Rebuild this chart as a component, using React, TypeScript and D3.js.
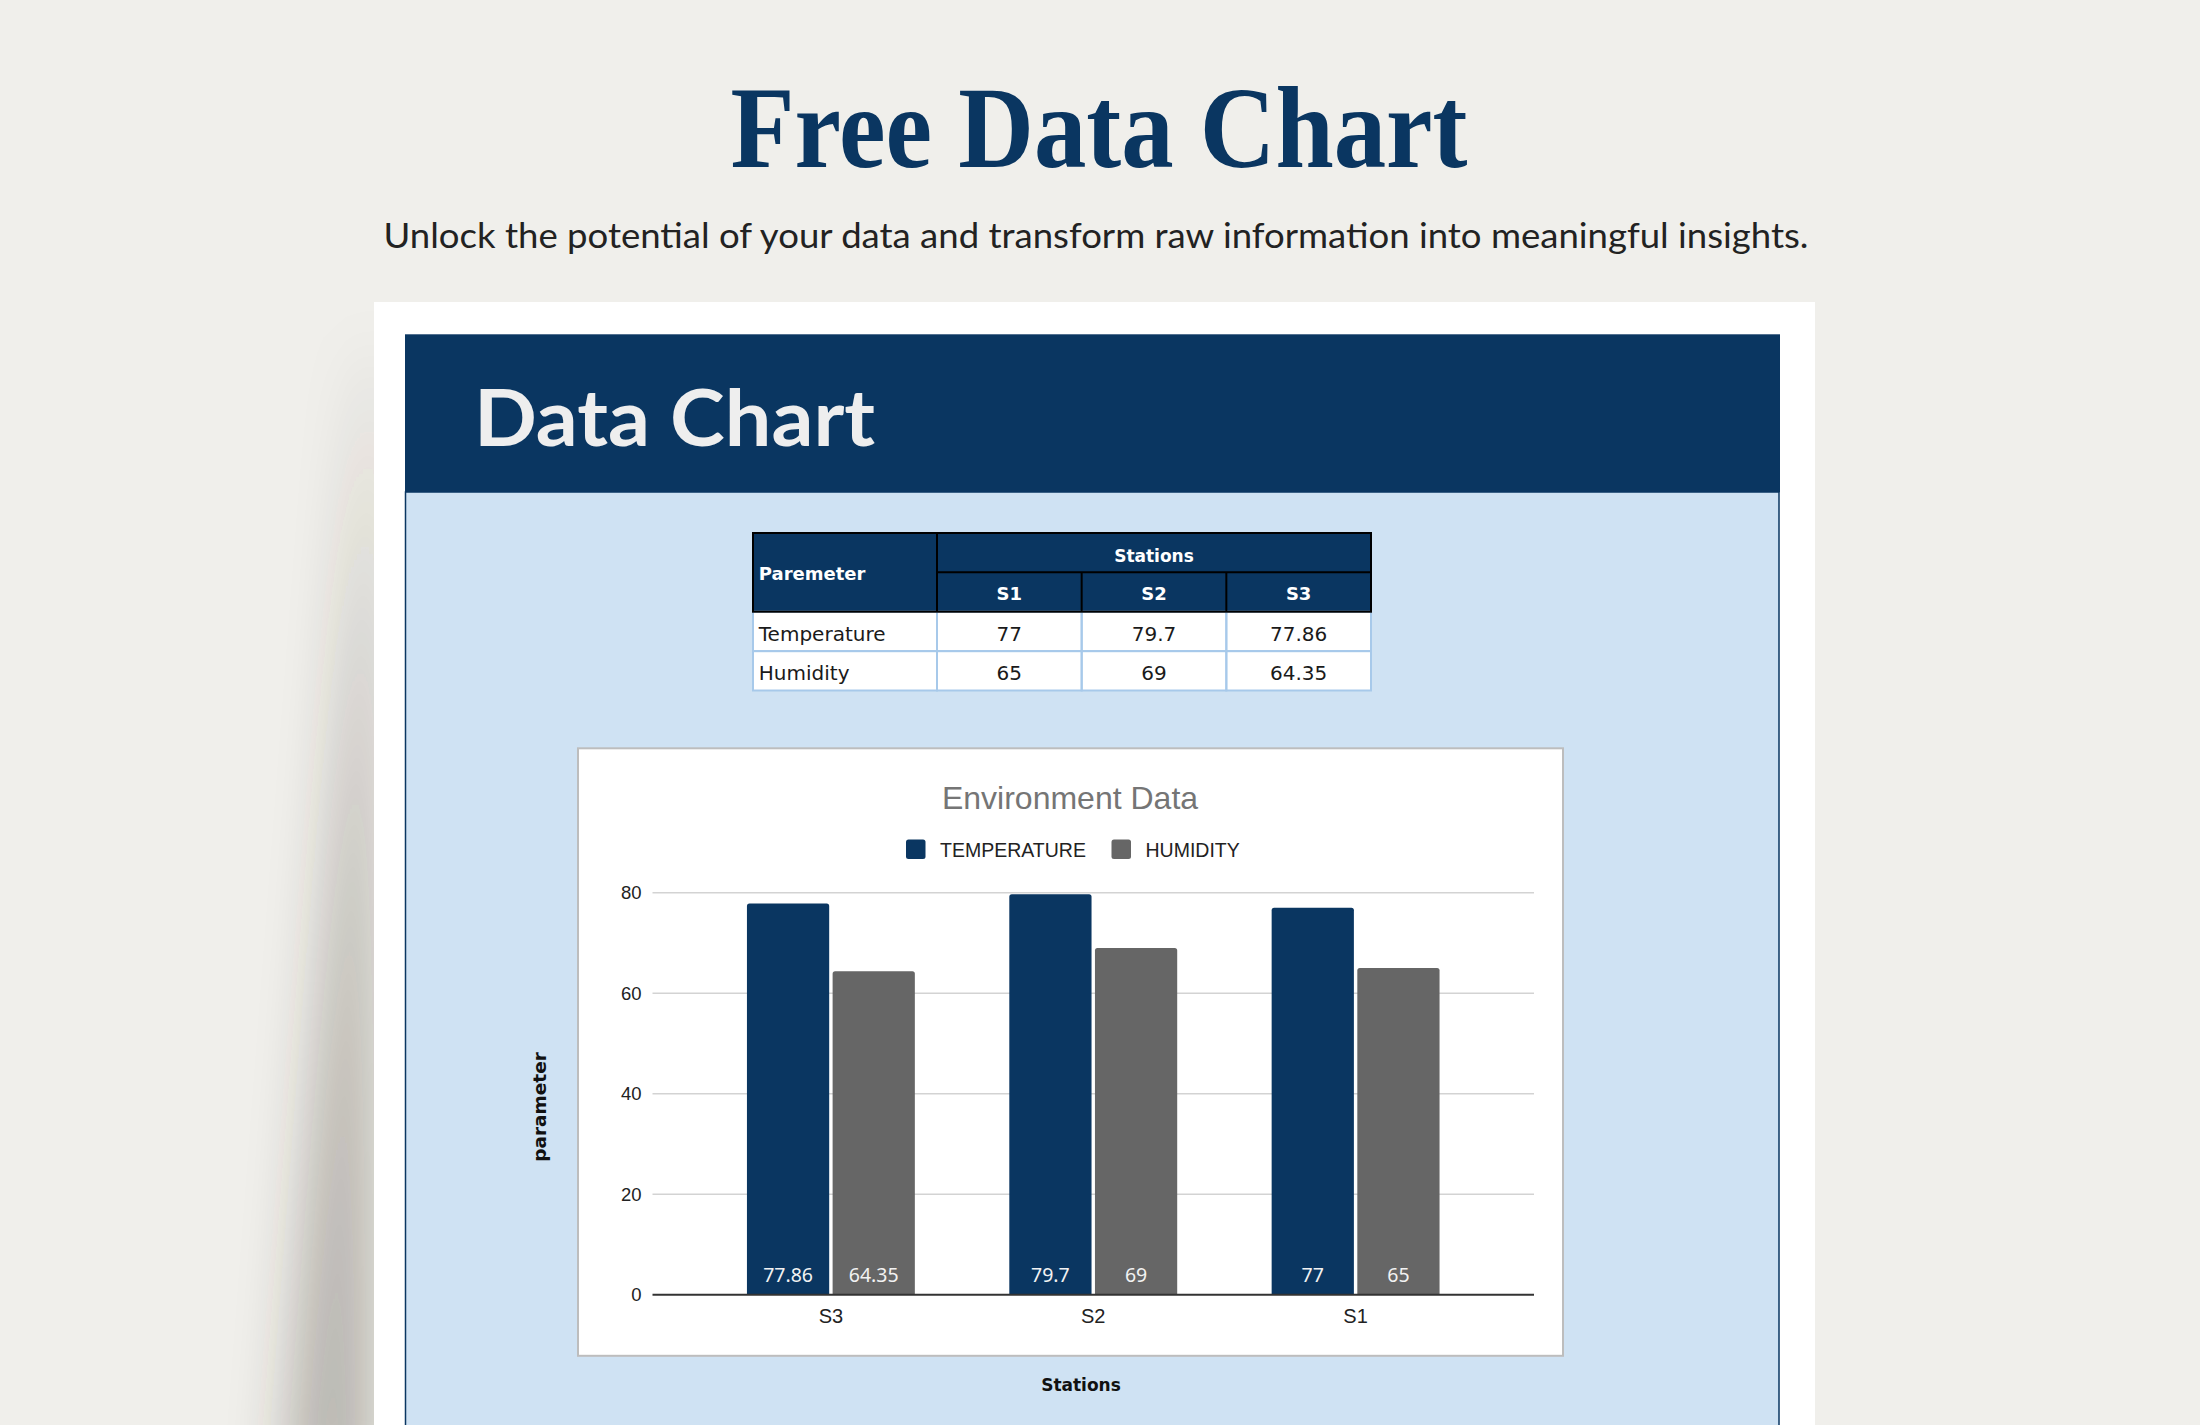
import React from "react";
import * as d3 from "d3";

// ---- data ----
const stationKeys = ["S1", "S2", "S3"];
const temperature = [77, 79.7, 77.86];
const humidity = [65, 69, 64.35];
const chartOrder = ["S3", "S2", "S1"];
const seriesNames = ["TEMPERATURE", "HUMIDITY"];
const rowLabels = ["Temperature", "Humidity"];
const yTicks = [0, 20, 40, 60, 80];

const NAVY = "#0a3661";
const GREY = "#666666";
const PANEL = "#cfe2f3";
const BG = "#f0efeb";
const SANS = "'Liberation Sans', Arial, sans-serif";
const GEO = "'DejaVu Sans', sans-serif";

function topRounded(x: number, y: number, w: number, h: number, r: number) {
  return `M${x},${y + h}V${y + r}Q${x},${y} ${x + r},${y}H${x + w - r}Q${x + w},${y} ${x + w},${y + r}V${y + h}Z`;
}

export default function App() {
  const W = 2200;
  const H = 1425;

  // chart scales
  const x0 = d3.scaleBand<string>().domain(chartOrder).range([652.5, 1534]).paddingInner(0.36).paddingOuter(0.36);
  const x1 = d3.scaleBand<string>().domain(seriesNames).range([0, x0.bandwidth()]).paddingInner(0.04);
  const y = d3.scaleLinear().domain([0, 80]).range([1294.7, 892.7]);
  const colors = d3.scaleOrdinal<string, string>().domain(seriesNames).range([NAVY, GREY]);
  const valueOf = (st: string, s: string) => {
    const i = stationKeys.indexOf(st);
    return s === seriesNames[0] ? temperature[i] : humidity[i];
  };

  // table scales
  const tLeft = 753;
  const tRight = 1371;
  const colX = d3.scaleBand<string>().domain(stationKeys).range([937, tRight]);
  const rowY = d3.scaleBand<string>().domain(rowLabels).range([611.7, 690.5]);
  const hTop = 533;
  const hMid = 572.3;
  const hBot = 611.7;

  return (
    <svg
      width={W}
      height={H}
      viewBox={`0 0 ${W} ${H}`}
      style={{ position: "absolute", left: 0, top: 0, display: "block" }}
    >
      <defs>
        <filter id="sh" x="-100%" y="-10%" width="300%" height="120%">
          <feGaussianBlur stdDeviation="28" />
        </filter>
      </defs>
      <rect x={0} y={0} width={W} height={H} fill={BG} />

      {/* page titles */}
      <text
        x={1099}
        y={166.7}
        textAnchor="middle"
        fontFamily="'Liberation Serif', 'DejaVu Serif', serif"
        fontWeight="bold"
        fontSize={117}
        fill={NAVY}
        textLength={737}
        lengthAdjust="spacingAndGlyphs"
      >
        Free Data Chart
      </text>
      <text
        x={1096}
        y={248}
        textAnchor="middle"
        fontFamily="Lato, 'Open Sans', sans-serif"
        fontSize={35}
        fill="#222222"
        textLength={1425}
        lengthAdjust="spacingAndGlyphs"
      >
        Unlock the potential of your data and transform raw information into meaningful insights.
      </text>

      {/* paper with shadow */}
      <polygon points="374,340 372,340 285,1480 374,1480" fill="rgba(60,55,45,0.32)" filter="url(#sh)" />
      <rect x={374} y={302} width={1441} height={H - 302} fill="#ffffff" />

      {/* navy header */}
      <rect x={405} y={334.3} width={1375} height={158} fill={NAVY} />
      <text
        x={474}
        y={446}
        fontFamily="Lato, sans-serif"
        fontWeight="bold"
        fontSize={78}
        fill="#eeeeee"
        textLength={401}
        lengthAdjust="spacingAndGlyphs"
      >
        Data Chart
      </text>

      {/* light blue panel */}
      <rect x={405.5} y={492} width={1373.5} height={H - 492 + 10} fill={PANEL} stroke={NAVY} strokeWidth={1.5} />

      {/* table */}
      <g>
        <rect x={tLeft} y={hTop} width={tRight - tLeft} height={hBot - hTop} fill={NAVY} />
        {rowLabels.map((r) => (
          <rect key={r} x={tLeft} y={rowY(r)!} width={tRight - tLeft} height={rowY.bandwidth()} fill="#ffffff" />
        ))}
        {rowLabels.map((r) => (
          <rect
            key={"b" + r}
            x={tLeft}
            y={rowY(r)!}
            width={colX.range()[0] - tLeft}
            height={rowY.bandwidth()}
            fill="none"
            stroke="#a7c9ea"
            strokeWidth={2}
          />
        ))}
        {rowLabels.map((r) =>
          stationKeys.map((s) => (
            <rect
              key={"c" + r + s}
              x={colX(s)!}
              y={rowY(r)!}
              width={colX.bandwidth()}
              height={rowY.bandwidth()}
              fill="none"
              stroke="#a7c9ea"
              strokeWidth={2}
            />
          ))
        )}
        <rect x={tLeft} y={hTop} width={tRight - tLeft} height={hBot - hTop} fill="none" stroke="#000" strokeWidth={2} />
        <line x1={colX.range()[0]} x2={colX.range()[0]} y1={hTop} y2={hBot} stroke="#000" strokeWidth={2} />
        <line x1={colX.range()[0]} x2={tRight} y1={hMid} y2={hMid} stroke="#000" strokeWidth={2} />
        {stationKeys.slice(1).map((s) => (
          <line key={"v" + s} x1={colX(s)!} x2={colX(s)!} y1={hMid} y2={hBot} stroke="#000" strokeWidth={2} />
        ))}
        <text x={758.8} y={580} fontFamily={GEO} fontWeight="bold" fontSize={18} fill="#ffffff">
          Paremeter
        </text>
        <text
          x={(colX.range()[0] + tRight) / 2}
          y={561.7}
          textAnchor="middle"
          fontFamily={GEO}
          fontWeight="bold"
          fontSize={17}
          fill="#ffffff"
        >
          Stations
        </text>
        {stationKeys.map((s) => (
          <text
            key={"h" + s}
            x={colX(s)! + colX.bandwidth() / 2}
            y={600}
            textAnchor="middle"
            fontFamily={GEO}
            fontWeight="bold"
            fontSize={18}
            fill="#ffffff"
          >
            {s}
          </text>
        ))}
        {rowLabels.map((r, ri) => (
          <g key={"t" + r}>
            <text x={758.8} y={rowY(r)! + 29} fontFamily={GEO} fontSize={20} fill="#1a1a1a">
              {r}
            </text>
            {stationKeys.map((s, si) => (
              <text
                key={s}
                x={colX(s)! + colX.bandwidth() / 2}
                y={rowY(r)! + 29}
                textAnchor="middle"
                fontFamily={GEO}
                fontSize={20}
                fill="#1a1a1a"
              >
                {String(ri === 0 ? temperature[si] : humidity[si])}
              </text>
            ))}
          </g>
        ))}
      </g>

      {/* chart box */}
      <rect x={578} y={748.3} width={985} height={607.5} fill="#ffffff" stroke="#bdbdbd" strokeWidth={2} />
      <text x={1070} y={809.3} textAnchor="middle" fontFamily={SANS} fontSize={32} fill="#757575">
        Environment Data
      </text>

      {/* legend */}
      {seriesNames.map((s, i) => {
        const lx = i === 0 ? 906 : 1111.5;
        return (
          <g key={"lg" + s}>
            <rect x={lx} y={839.5} width={19.5} height={19.5} rx={2.5} fill={colors(s)} />
            <text x={lx + 34} y={856.7} fontFamily={SANS} fontSize={19.5} fill="#222222">
              {s}
            </text>
          </g>
        );
      })}

      {/* grid + y ticks */}
      {yTicks.map((t) => (
        <g key={"y" + t}>
          {t !== 0 && (
            <line x1={652.5} x2={1534} y1={y(t)} y2={y(t)} stroke="#d3d3d3" strokeWidth={1.6} />
          )}
          <text x={641.5} y={y(t) + 6.6} textAnchor="end" fontFamily={SANS} fontSize={18.5} fill="#222222">
            {t}
          </text>
        </g>
      ))}

      {/* bars */}
      {chartOrder.map((st) => (
        <g key={"g" + st} transform={`translate(${x0(st)},0)`}>
          {seriesNames.map((s) => {
            const v = valueOf(st, s);
            const bx = x1(s)!;
            const bw = x1.bandwidth();
            return (
              <g key={s}>
                <path d={topRounded(bx, y(v), bw, y(0) - y(v), 2.5)} fill={colors(s)} />
                <text
                  x={bx + bw / 2}
                  y={y(0) - 13}
                  textAnchor="middle"
                  fontFamily="'Noto Sans', 'DejaVu Sans', sans-serif"
                  fontSize={19.5}
                  fill="#f2f2f2"
                >
                  {String(v)}
                </text>
              </g>
            );
          })}
          <text
            x={x0.bandwidth() / 2}
            y={1322.7}
            textAnchor="middle"
            fontFamily={SANS}
            fontSize={20}
            fill="#222222"
          >
            {st}
          </text>
        </g>
      ))}
      <line x1={652.5} x2={1534} y1={y(0)} y2={y(0)} stroke="#333333" strokeWidth={2} />

      {/* axis titles */}
      <text
        transform={`translate(546,1107) rotate(-90)`}
        textAnchor="middle"
        fontFamily={GEO}
        fontWeight="bold"
        fontSize={18.5}
        fill="#111111"
      >
        parameter
      </text>
      <text x={1081} y={1390.7} textAnchor="middle" fontFamily={GEO} fontWeight="bold" fontSize={17} fill="#111111">
        Stations
      </text>
    </svg>
  );
}
